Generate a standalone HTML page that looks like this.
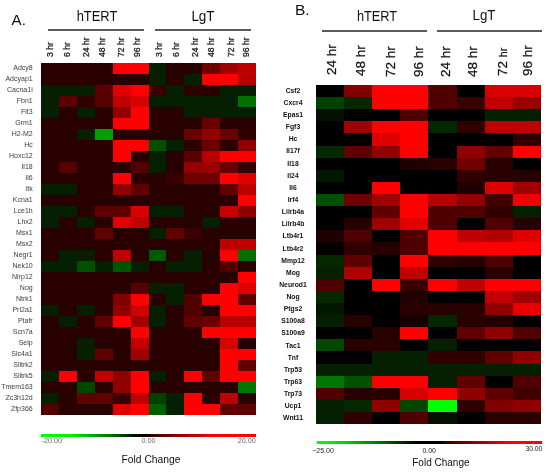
<!DOCTYPE html>
<html><head><meta charset="utf-8"><title>Heatmaps</title>
<style>
html,body{margin:0;padding:0;background:#fff;}
body{width:550px;height:474px;position:relative;overflow:hidden;font-family:"Liberation Sans",sans-serif;color:#000;}
.hm{position:absolute;display:block;}
.t{position:absolute;white-space:nowrap;line-height:1;}
.big{font-size:14.5px;color:#111;}
.ln{position:absolute;height:1.6px;background:#595959;}
.ra{position:absolute;right:0;font-size:7.0px;color:#3c3c3c;text-align:right;white-space:nowrap;line-height:11px;height:11px;}
.rb{position:absolute;font-size:8.0px;transform:scaleX(0.85);font-weight:bold;color:#111;text-align:center;white-space:nowrap;line-height:12.11px;height:12.11px;width:50px;}
.ca{position:absolute;font-size:8.6px;color:#222;-webkit-text-stroke:0.3px #222;white-space:nowrap;line-height:1;transform-origin:0 0;transform:rotate(-90deg);}
.cb{position:absolute;font-size:13.5px;color:#111;-webkit-text-stroke:0.25px #111;white-space:nowrap;line-height:1;transform-origin:0 0;transform:rotate(-90deg);}
.bar{position:absolute;}
.barA{background:linear-gradient(to right,#00ff00 0%,#00f000 14%,#00c800 20%,#009000 27.5%,#006000 34.5%,#003000 40%,#000 45%,#000 50%,#400000 53%,#700000 59.5%,#a00000 66.5%,#d00000 74%,#ff0000 80%,#ff0000 100%);}
.barB{background:linear-gradient(to right,#00ff00 0%,#00f000 6%,#00d000 12.5%,#00a000 20.5%,#007800 27.5%,#004800 33.5%,#002000 39.5%,#000 44%,#000 53.8%,#300000 58.2%,#700000 65.7%,#a00000 72.3%,#d00000 79.4%,#ff0000 85.6%,#ff0000 100%);}
.sa{position:absolute;font-size:7.2px;color:#666;white-space:nowrap;line-height:1;}
.sb{position:absolute;font-size:7px;color:#222;white-space:nowrap;line-height:1;}
.fc{position:absolute;font-size:10.3px;color:#111;white-space:nowrap;line-height:1;text-align:center;width:100px;}
</style></head><body>

<div class="t big" style="left:11.6px;top:11.5px;font-size:15.2px">A.</div>
<div class="t big" style="left:57.3px;top:8.8px;width:80px;text-align:center;transform:scaleX(0.89)">hTERT</div>
<div class="t big" style="left:162.5px;top:8.8px;width:80px;text-align:center;transform:scaleX(0.93)">LgT</div>
<div class="ln" style="left:47.6px;top:29.2px;width:96px"></div>
<div class="ln" style="left:155px;top:29.2px;width:96px"></div>
<div class="ca" style="left:46.3px;top:57.3px">3 hr</div>
<div class="ca" style="left:63.3px;top:57.3px">6 hr</div>
<div class="ca" style="left:81.7px;top:57.3px">24 hr</div>
<div class="ca" style="left:98.3px;top:57.3px">48 hr</div>
<div class="ca" style="left:116.8px;top:57.3px">72 hr</div>
<div class="ca" style="left:132.8px;top:57.3px">96 hr</div>
<div class="ca" style="left:155.2px;top:57.3px">3 hr</div>
<div class="ca" style="left:172.3px;top:57.3px">6 hr</div>
<div class="ca" style="left:190.8px;top:57.3px">24 hr</div>
<div class="ca" style="left:207.3px;top:57.3px">48 hr</div>
<div class="ca" style="left:226.5px;top:57.3px">72 hr</div>
<div class="ca" style="left:242.0px;top:57.3px">96 hr</div>
<div style="position:absolute;left:0;top:62.150000000000006px;width:32.7px;height:360px">
<div class="ra" style="top:0.00px">Adcy8</div>
<div class="ra" style="top:11.00px">Adcyap1</div>
<div class="ra" style="top:22.00px">Cacna1i</div>
<div class="ra" style="top:33.00px">Fbn1</div>
<div class="ra" style="top:44.00px">Flt3</div>
<div class="ra" style="top:55.00px">Grm1</div>
<div class="ra" style="top:66.00px">H2-M2</div>
<div class="ra" style="top:77.00px">Hc</div>
<div class="ra" style="top:88.00px">Hoxc12</div>
<div class="ra" style="top:99.00px">Il18</div>
<div class="ra" style="top:110.00px">Il6</div>
<div class="ra" style="top:121.00px">Itk</div>
<div class="ra" style="top:132.00px">Kcna1</div>
<div class="ra" style="top:143.00px">Lce1h</div>
<div class="ra" style="top:154.00px">Lhx2</div>
<div class="ra" style="top:165.00px">Msx1</div>
<div class="ra" style="top:176.00px">Msx2</div>
<div class="ra" style="top:187.00px">Negr1</div>
<div class="ra" style="top:198.00px">Nek10</div>
<div class="ra" style="top:209.00px">Nlrp12</div>
<div class="ra" style="top:220.00px">Nog</div>
<div class="ra" style="top:231.00px">Ntrk1</div>
<div class="ra" style="top:242.00px">Prl2a1</div>
<div class="ra" style="top:253.00px">Ptafr</div>
<div class="ra" style="top:264.00px">Scn7a</div>
<div class="ra" style="top:275.00px">Selp</div>
<div class="ra" style="top:286.00px">Slc4a1</div>
<div class="ra" style="top:297.00px">Slitrk2</div>
<div class="ra" style="top:308.00px">Slitrk5</div>
<div class="ra" style="top:319.00px">Tmem163</div>
<div class="ra" style="top:330.00px">Zc3h12d</div>
<div class="ra" style="top:341.00px">Zfp366</div>
</div>
<svg class="hm" style="left:41.1px;top:62.7px" width="215.04" height="352.00" viewBox="0 0 215.04 352.00" shape-rendering="crispEdges">
<rect x="0.00" y="0.00" width="71.98" height="11.30" fill="#280000"/>
<rect x="71.68" y="0.00" width="36.14" height="11.30" fill="#ff0000"/>
<rect x="107.52" y="0.00" width="18.22" height="11.30" fill="#042000"/>
<rect x="125.44" y="0.00" width="36.14" height="11.30" fill="#280000"/>
<rect x="161.28" y="0.00" width="18.22" height="11.30" fill="#700000"/>
<rect x="179.20" y="0.00" width="18.22" height="11.30" fill="#a00000"/>
<rect x="197.12" y="0.00" width="18.22" height="11.30" fill="#c00000"/>
<rect x="0.00" y="11.00" width="107.82" height="11.30" fill="#280000"/>
<rect x="107.52" y="11.00" width="18.22" height="11.30" fill="#042000"/>
<rect x="125.44" y="11.00" width="18.22" height="11.30" fill="#280000"/>
<rect x="143.36" y="11.00" width="18.22" height="11.30" fill="#042000"/>
<rect x="161.28" y="11.00" width="36.14" height="11.30" fill="#ff0000"/>
<rect x="197.12" y="11.00" width="18.22" height="11.30" fill="#b80000"/>
<rect x="0.00" y="22.00" width="54.06" height="11.30" fill="#042000"/>
<rect x="53.76" y="22.00" width="18.22" height="11.30" fill="#580000"/>
<rect x="71.68" y="22.00" width="18.22" height="11.30" fill="#e00000"/>
<rect x="89.60" y="22.00" width="18.22" height="11.30" fill="#ff0000"/>
<rect x="107.52" y="22.00" width="18.22" height="11.30" fill="#380000"/>
<rect x="125.44" y="22.00" width="18.22" height="11.30" fill="#042000"/>
<rect x="143.36" y="22.00" width="18.22" height="11.30" fill="#300000"/>
<rect x="161.28" y="22.00" width="18.22" height="11.30" fill="#280000"/>
<rect x="179.20" y="22.00" width="36.14" height="11.30" fill="#042000"/>
<rect x="0.00" y="33.00" width="18.22" height="11.30" fill="#042000"/>
<rect x="17.92" y="33.00" width="18.22" height="11.30" fill="#5a0000"/>
<rect x="35.84" y="33.00" width="18.22" height="11.30" fill="#300000"/>
<rect x="53.76" y="33.00" width="18.22" height="11.30" fill="#580000"/>
<rect x="71.68" y="33.00" width="18.22" height="11.30" fill="#c00000"/>
<rect x="89.60" y="33.00" width="18.22" height="11.30" fill="#d80000"/>
<rect x="107.52" y="33.00" width="89.90" height="11.30" fill="#042000"/>
<rect x="197.12" y="33.00" width="18.22" height="11.30" fill="#007000"/>
<rect x="0.00" y="44.00" width="18.22" height="11.30" fill="#042000"/>
<rect x="17.92" y="44.00" width="18.22" height="11.30" fill="#280000"/>
<rect x="35.84" y="44.00" width="18.22" height="11.30" fill="#042000"/>
<rect x="53.76" y="44.00" width="18.22" height="11.30" fill="#280000"/>
<rect x="71.68" y="44.00" width="18.22" height="11.30" fill="#900000"/>
<rect x="89.60" y="44.00" width="18.22" height="11.30" fill="#ff0000"/>
<rect x="107.52" y="44.00" width="36.14" height="11.30" fill="#280000"/>
<rect x="143.36" y="44.00" width="71.98" height="11.30" fill="#042000"/>
<rect x="0.00" y="55.00" width="71.98" height="11.30" fill="#280000"/>
<rect x="71.68" y="55.00" width="36.14" height="11.30" fill="#ff0000"/>
<rect x="107.52" y="55.00" width="54.06" height="11.30" fill="#280000"/>
<rect x="161.28" y="55.00" width="18.22" height="11.30" fill="#680000"/>
<rect x="179.20" y="55.00" width="36.14" height="11.30" fill="#280000"/>
<rect x="0.00" y="66.00" width="36.14" height="11.30" fill="#280000"/>
<rect x="35.84" y="66.00" width="18.22" height="11.30" fill="#042000"/>
<rect x="53.76" y="66.00" width="18.22" height="11.30" fill="#00a000"/>
<rect x="71.68" y="66.00" width="71.98" height="11.30" fill="#280000"/>
<rect x="143.36" y="66.00" width="18.22" height="11.30" fill="#680000"/>
<rect x="161.28" y="66.00" width="18.22" height="11.30" fill="#900000"/>
<rect x="179.20" y="66.00" width="18.22" height="11.30" fill="#680000"/>
<rect x="197.12" y="66.00" width="18.22" height="11.30" fill="#300000"/>
<rect x="0.00" y="77.00" width="71.98" height="11.30" fill="#280000"/>
<rect x="71.68" y="77.00" width="36.14" height="11.30" fill="#ff0000"/>
<rect x="107.52" y="77.00" width="18.22" height="11.30" fill="#005000"/>
<rect x="125.44" y="77.00" width="18.22" height="11.30" fill="#042000"/>
<rect x="143.36" y="77.00" width="18.22" height="11.30" fill="#300000"/>
<rect x="161.28" y="77.00" width="18.22" height="11.30" fill="#680000"/>
<rect x="179.20" y="77.00" width="18.22" height="11.30" fill="#280000"/>
<rect x="197.12" y="77.00" width="18.22" height="11.30" fill="#900000"/>
<rect x="0.00" y="88.00" width="71.98" height="11.30" fill="#280000"/>
<rect x="71.68" y="88.00" width="18.22" height="11.30" fill="#ff0000"/>
<rect x="89.60" y="88.00" width="18.22" height="11.30" fill="#280000"/>
<rect x="107.52" y="88.00" width="18.22" height="11.30" fill="#042000"/>
<rect x="125.44" y="88.00" width="18.22" height="11.30" fill="#280000"/>
<rect x="143.36" y="88.00" width="18.22" height="11.30" fill="#580000"/>
<rect x="161.28" y="88.00" width="18.22" height="11.30" fill="#b80000"/>
<rect x="179.20" y="88.00" width="36.14" height="11.30" fill="#ff0000"/>
<rect x="0.00" y="99.00" width="18.22" height="11.30" fill="#280000"/>
<rect x="17.92" y="99.00" width="18.22" height="11.30" fill="#580000"/>
<rect x="35.84" y="99.00" width="54.06" height="11.30" fill="#280000"/>
<rect x="89.60" y="99.00" width="18.22" height="11.30" fill="#500000"/>
<rect x="107.52" y="99.00" width="18.22" height="11.30" fill="#042000"/>
<rect x="125.44" y="99.00" width="18.22" height="11.30" fill="#280000"/>
<rect x="143.36" y="99.00" width="36.14" height="11.30" fill="#980000"/>
<rect x="179.20" y="99.00" width="18.22" height="11.30" fill="#680000"/>
<rect x="197.12" y="99.00" width="18.22" height="11.30" fill="#300000"/>
<rect x="0.00" y="110.00" width="71.98" height="11.30" fill="#280000"/>
<rect x="71.68" y="110.00" width="18.22" height="11.30" fill="#ff0000"/>
<rect x="89.60" y="110.00" width="36.14" height="11.30" fill="#280000"/>
<rect x="125.44" y="110.00" width="18.22" height="11.30" fill="#380000"/>
<rect x="143.36" y="110.00" width="36.14" height="11.30" fill="#700000"/>
<rect x="179.20" y="110.00" width="18.22" height="11.30" fill="#ff0000"/>
<rect x="197.12" y="110.00" width="18.22" height="11.30" fill="#e00000"/>
<rect x="0.00" y="121.00" width="36.14" height="11.30" fill="#042000"/>
<rect x="35.84" y="121.00" width="36.14" height="11.30" fill="#280000"/>
<rect x="71.68" y="121.00" width="18.22" height="11.30" fill="#900000"/>
<rect x="89.60" y="121.00" width="18.22" height="11.30" fill="#600000"/>
<rect x="107.52" y="121.00" width="71.98" height="11.30" fill="#280000"/>
<rect x="179.20" y="121.00" width="18.22" height="11.30" fill="#600000"/>
<rect x="197.12" y="121.00" width="18.22" height="11.30" fill="#c00000"/>
<rect x="0.00" y="132.00" width="197.42" height="11.30" fill="#280000"/>
<rect x="197.12" y="132.00" width="18.22" height="11.30" fill="#ff0000"/>
<rect x="0.00" y="143.00" width="36.14" height="11.30" fill="#042000"/>
<rect x="35.84" y="143.00" width="18.22" height="11.30" fill="#280000"/>
<rect x="53.76" y="143.00" width="36.14" height="11.30" fill="#600000"/>
<rect x="89.60" y="143.00" width="18.22" height="11.30" fill="#d80000"/>
<rect x="107.52" y="143.00" width="36.14" height="11.30" fill="#042000"/>
<rect x="143.36" y="143.00" width="36.14" height="11.30" fill="#280000"/>
<rect x="179.20" y="143.00" width="18.22" height="11.30" fill="#c80000"/>
<rect x="197.12" y="143.00" width="18.22" height="11.30" fill="#900000"/>
<rect x="0.00" y="154.00" width="18.22" height="11.30" fill="#042000"/>
<rect x="17.92" y="154.00" width="18.22" height="11.30" fill="#280000"/>
<rect x="35.84" y="154.00" width="18.22" height="11.30" fill="#042000"/>
<rect x="53.76" y="154.00" width="18.22" height="11.30" fill="#280000"/>
<rect x="71.68" y="154.00" width="18.22" height="11.30" fill="#e00000"/>
<rect x="89.60" y="154.00" width="18.22" height="11.30" fill="#c00000"/>
<rect x="107.52" y="154.00" width="54.06" height="11.30" fill="#280000"/>
<rect x="161.28" y="154.00" width="18.22" height="11.30" fill="#042000"/>
<rect x="179.20" y="154.00" width="36.14" height="11.30" fill="#280000"/>
<rect x="0.00" y="165.00" width="54.06" height="11.30" fill="#280000"/>
<rect x="53.76" y="165.00" width="18.22" height="11.30" fill="#600000"/>
<rect x="71.68" y="165.00" width="36.14" height="11.30" fill="#280000"/>
<rect x="107.52" y="165.00" width="18.22" height="11.30" fill="#042000"/>
<rect x="125.44" y="165.00" width="18.22" height="11.30" fill="#600000"/>
<rect x="143.36" y="165.00" width="18.22" height="11.30" fill="#380000"/>
<rect x="161.28" y="165.00" width="54.06" height="11.30" fill="#280000"/>
<rect x="0.00" y="176.00" width="179.50" height="11.30" fill="#280000"/>
<rect x="179.20" y="176.00" width="36.14" height="11.30" fill="#c00000"/>
<rect x="0.00" y="187.00" width="18.22" height="11.30" fill="#280000"/>
<rect x="17.92" y="187.00" width="36.14" height="11.30" fill="#042000"/>
<rect x="53.76" y="187.00" width="18.22" height="11.30" fill="#280000"/>
<rect x="71.68" y="187.00" width="18.22" height="11.30" fill="#c00000"/>
<rect x="89.60" y="187.00" width="18.22" height="11.30" fill="#280000"/>
<rect x="107.52" y="187.00" width="18.22" height="11.30" fill="#005800"/>
<rect x="125.44" y="187.00" width="18.22" height="11.30" fill="#280000"/>
<rect x="143.36" y="187.00" width="18.22" height="11.30" fill="#042000"/>
<rect x="161.28" y="187.00" width="18.22" height="11.30" fill="#280000"/>
<rect x="179.20" y="187.00" width="18.22" height="11.30" fill="#ff0000"/>
<rect x="197.12" y="187.00" width="18.22" height="11.30" fill="#007000"/>
<rect x="0.00" y="198.00" width="36.14" height="11.30" fill="#042000"/>
<rect x="35.84" y="198.00" width="18.22" height="11.30" fill="#005000"/>
<rect x="53.76" y="198.00" width="18.22" height="11.30" fill="#042000"/>
<rect x="71.68" y="198.00" width="18.22" height="11.30" fill="#005500"/>
<rect x="89.60" y="198.00" width="18.22" height="11.30" fill="#042000"/>
<rect x="107.52" y="198.00" width="18.22" height="11.30" fill="#280000"/>
<rect x="125.44" y="198.00" width="36.14" height="11.30" fill="#042000"/>
<rect x="161.28" y="198.00" width="18.22" height="11.30" fill="#280000"/>
<rect x="179.20" y="198.00" width="18.22" height="11.30" fill="#500000"/>
<rect x="197.12" y="198.00" width="18.22" height="11.30" fill="#280000"/>
<rect x="0.00" y="209.00" width="197.42" height="11.30" fill="#280000"/>
<rect x="197.12" y="209.00" width="18.22" height="11.30" fill="#ff0000"/>
<rect x="0.00" y="220.00" width="89.90" height="11.30" fill="#280000"/>
<rect x="89.60" y="220.00" width="18.22" height="11.30" fill="#580000"/>
<rect x="107.52" y="220.00" width="36.14" height="11.30" fill="#042000"/>
<rect x="143.36" y="220.00" width="36.14" height="11.30" fill="#280000"/>
<rect x="179.20" y="220.00" width="18.22" height="11.30" fill="#ff0000"/>
<rect x="197.12" y="220.00" width="18.22" height="11.30" fill="#e00000"/>
<rect x="0.00" y="231.00" width="71.98" height="11.30" fill="#280000"/>
<rect x="71.68" y="231.00" width="18.22" height="11.30" fill="#800000"/>
<rect x="89.60" y="231.00" width="18.22" height="11.30" fill="#ff0000"/>
<rect x="107.52" y="231.00" width="18.22" height="11.30" fill="#280000"/>
<rect x="125.44" y="231.00" width="18.22" height="11.30" fill="#042000"/>
<rect x="143.36" y="231.00" width="18.22" height="11.30" fill="#500000"/>
<rect x="161.28" y="231.00" width="36.14" height="11.30" fill="#ff0000"/>
<rect x="197.12" y="231.00" width="18.22" height="11.30" fill="#600000"/>
<rect x="0.00" y="242.00" width="18.22" height="11.30" fill="#042000"/>
<rect x="17.92" y="242.00" width="18.22" height="11.30" fill="#280000"/>
<rect x="35.84" y="242.00" width="18.22" height="11.30" fill="#042000"/>
<rect x="53.76" y="242.00" width="18.22" height="11.30" fill="#280000"/>
<rect x="71.68" y="242.00" width="18.22" height="11.30" fill="#900000"/>
<rect x="89.60" y="242.00" width="18.22" height="11.30" fill="#d00000"/>
<rect x="107.52" y="242.00" width="18.22" height="11.30" fill="#042000"/>
<rect x="125.44" y="242.00" width="18.22" height="11.30" fill="#280000"/>
<rect x="143.36" y="242.00" width="18.22" height="11.30" fill="#500000"/>
<rect x="161.28" y="242.00" width="18.22" height="11.30" fill="#280000"/>
<rect x="179.20" y="242.00" width="36.14" height="11.30" fill="#ff0000"/>
<rect x="0.00" y="253.00" width="18.22" height="11.30" fill="#280000"/>
<rect x="17.92" y="253.00" width="18.22" height="11.30" fill="#042000"/>
<rect x="35.84" y="253.00" width="18.22" height="11.30" fill="#280000"/>
<rect x="53.76" y="253.00" width="18.22" height="11.30" fill="#600000"/>
<rect x="71.68" y="253.00" width="18.22" height="11.30" fill="#ff0000"/>
<rect x="89.60" y="253.00" width="18.22" height="11.30" fill="#a00000"/>
<rect x="107.52" y="253.00" width="18.22" height="11.30" fill="#042000"/>
<rect x="125.44" y="253.00" width="18.22" height="11.30" fill="#280000"/>
<rect x="143.36" y="253.00" width="18.22" height="11.30" fill="#600000"/>
<rect x="161.28" y="253.00" width="18.22" height="11.30" fill="#680000"/>
<rect x="179.20" y="253.00" width="36.14" height="11.30" fill="#b80000"/>
<rect x="0.00" y="264.00" width="89.90" height="11.30" fill="#280000"/>
<rect x="89.60" y="264.00" width="18.22" height="11.30" fill="#ff0000"/>
<rect x="107.52" y="264.00" width="54.06" height="11.30" fill="#280000"/>
<rect x="161.28" y="264.00" width="54.06" height="11.30" fill="#ff0000"/>
<rect x="0.00" y="275.00" width="36.14" height="11.30" fill="#280000"/>
<rect x="35.84" y="275.00" width="18.22" height="11.30" fill="#042000"/>
<rect x="53.76" y="275.00" width="36.14" height="11.30" fill="#280000"/>
<rect x="89.60" y="275.00" width="18.22" height="11.30" fill="#c00000"/>
<rect x="107.52" y="275.00" width="71.98" height="11.30" fill="#280000"/>
<rect x="179.20" y="275.00" width="18.22" height="11.30" fill="#d80000"/>
<rect x="197.12" y="275.00" width="18.22" height="11.30" fill="#280000"/>
<rect x="0.00" y="286.00" width="36.14" height="11.30" fill="#280000"/>
<rect x="35.84" y="286.00" width="18.22" height="11.30" fill="#042000"/>
<rect x="53.76" y="286.00" width="18.22" height="11.30" fill="#600000"/>
<rect x="71.68" y="286.00" width="18.22" height="11.30" fill="#280000"/>
<rect x="89.60" y="286.00" width="18.22" height="11.30" fill="#a00000"/>
<rect x="107.52" y="286.00" width="71.98" height="11.30" fill="#280000"/>
<rect x="179.20" y="286.00" width="36.14" height="11.30" fill="#ff0000"/>
<rect x="0.00" y="297.00" width="179.50" height="11.30" fill="#280000"/>
<rect x="179.20" y="297.00" width="18.22" height="11.30" fill="#ff0000"/>
<rect x="197.12" y="297.00" width="18.22" height="11.30" fill="#600000"/>
<rect x="0.00" y="308.00" width="18.22" height="11.30" fill="#042000"/>
<rect x="17.92" y="308.00" width="18.22" height="11.30" fill="#ff0000"/>
<rect x="35.84" y="308.00" width="18.22" height="11.30" fill="#280000"/>
<rect x="53.76" y="308.00" width="18.22" height="11.30" fill="#c00000"/>
<rect x="71.68" y="308.00" width="18.22" height="11.30" fill="#900000"/>
<rect x="89.60" y="308.00" width="18.22" height="11.30" fill="#ff0000"/>
<rect x="107.52" y="308.00" width="18.22" height="11.30" fill="#042000"/>
<rect x="125.44" y="308.00" width="18.22" height="11.30" fill="#280000"/>
<rect x="143.36" y="308.00" width="18.22" height="11.30" fill="#ff0000"/>
<rect x="161.28" y="308.00" width="18.22" height="11.30" fill="#600000"/>
<rect x="179.20" y="308.00" width="36.14" height="11.30" fill="#ff0000"/>
<rect x="0.00" y="319.00" width="36.14" height="11.30" fill="#280000"/>
<rect x="35.84" y="319.00" width="18.22" height="11.30" fill="#004800"/>
<rect x="53.76" y="319.00" width="18.22" height="11.30" fill="#280000"/>
<rect x="71.68" y="319.00" width="18.22" height="11.30" fill="#900000"/>
<rect x="89.60" y="319.00" width="18.22" height="11.30" fill="#ff0000"/>
<rect x="107.52" y="319.00" width="89.90" height="11.30" fill="#280000"/>
<rect x="197.12" y="319.00" width="18.22" height="11.30" fill="#007800"/>
<rect x="0.00" y="330.00" width="18.22" height="11.30" fill="#042000"/>
<rect x="17.92" y="330.00" width="18.22" height="11.30" fill="#280000"/>
<rect x="35.84" y="330.00" width="36.14" height="11.30" fill="#600000"/>
<rect x="71.68" y="330.00" width="18.22" height="11.30" fill="#380000"/>
<rect x="89.60" y="330.00" width="18.22" height="11.30" fill="#c00000"/>
<rect x="107.52" y="330.00" width="18.22" height="11.30" fill="#004000"/>
<rect x="125.44" y="330.00" width="18.22" height="11.30" fill="#042000"/>
<rect x="143.36" y="330.00" width="18.22" height="11.30" fill="#ff0000"/>
<rect x="161.28" y="330.00" width="18.22" height="11.30" fill="#280000"/>
<rect x="179.20" y="330.00" width="18.22" height="11.30" fill="#c00000"/>
<rect x="197.12" y="330.00" width="18.22" height="11.30" fill="#280000"/>
<rect x="0.00" y="341.00" width="18.22" height="11.30" fill="#500000"/>
<rect x="17.92" y="341.00" width="54.06" height="11.30" fill="#280000"/>
<rect x="71.68" y="341.00" width="18.22" height="11.30" fill="#e00000"/>
<rect x="89.60" y="341.00" width="18.22" height="11.30" fill="#ff0000"/>
<rect x="107.52" y="341.00" width="18.22" height="11.30" fill="#006000"/>
<rect x="125.44" y="341.00" width="18.22" height="11.30" fill="#042000"/>
<rect x="143.36" y="341.00" width="36.14" height="11.30" fill="#ff0000"/>
<rect x="179.20" y="341.00" width="36.14" height="11.30" fill="#600000"/>
</svg>
<div class="bar barA" style="left:41px;top:434.2px;width:215px;height:2.9px"></div>
<div class="sa" style="left:41.7px;top:437.4px">-20.00</div>
<div class="sa" style="left:128.5px;top:437.4px;width:40px;text-align:center">0.00</div>
<div class="sa" style="left:215.8px;top:437.4px;width:40px;text-align:right">20.00</div>
<div class="fc" style="left:101px;top:454.8px">Fold Change</div>
<div class="t big" style="left:295.2px;top:2.6px;font-size:14.4px;transform-origin:0 0;transform:scaleX(1.08)">B.</div>
<div class="t big" style="left:337.2px;top:8.8px;width:80px;text-align:center;font-size:14.5px;transform:scaleX(0.88)">hTERT</div>
<div class="t big" style="left:443.5px;top:8.3px;width:80px;text-align:center;font-size:14.8px;transform:scaleX(0.9)">LgT</div>
<div class="ln" style="left:322.2px;top:30.1px;width:105.3px"></div>
<div class="ln" style="left:436.7px;top:30.1px;width:105.3px"></div>
<div class="cb" style="left:324.8px;top:75.4px">24 hr</div>
<div class="cb" style="left:353.9px;top:76.2px">48 hr</div>
<div class="cb" style="left:383.5px;top:76.6px">72 hr</div>
<div class="cb" style="left:412.3px;top:76.6px">96 hr</div>
<div class="cb" style="left:438.8px;top:76.8px">24 hr</div>
<div class="cb" style="left:465.7px;top:76.8px">48 hr</div>
<div class="cb" style="left:495.5px;top:75.6px">72 <span style="font-size:10.6px;letter-spacing:0.2px">hr</span></div>
<div class="cb" style="left:521.4px;top:75.6px">96 hr</div>
<div class="rb" style="left:267.5px;top:84.80px">Csf2</div>
<div class="rb" style="left:267.5px;top:96.94px">Cxcr4</div>
<div class="rb" style="left:267.5px;top:109.07px">Epas1</div>
<div class="rb" style="left:267.5px;top:121.20px">Fgf3</div>
<div class="rb" style="left:267.5px;top:133.34px">Hc</div>
<div class="rb" style="left:267.5px;top:145.47px">Il17f</div>
<div class="rb" style="left:267.5px;top:157.61px">Il18</div>
<div class="rb" style="left:267.5px;top:169.75px">Il24</div>
<div class="rb" style="left:267.5px;top:181.88px">Il6</div>
<div class="rb" style="left:267.5px;top:194.01px">Irf4</div>
<div class="rb" style="left:267.5px;top:206.15px">Lilrb4a</div>
<div class="rb" style="left:267.5px;top:218.28px">Lilrb4b</div>
<div class="rb" style="left:267.5px;top:230.42px">Ltb4r1</div>
<div class="rb" style="left:267.5px;top:242.56px">Ltb4r2</div>
<div class="rb" style="left:267.5px;top:254.69px">Mmp12</div>
<div class="rb" style="left:267.5px;top:266.82px">Mog</div>
<div class="rb" style="left:267.5px;top:278.96px">Neurod1</div>
<div class="rb" style="left:267.5px;top:291.09px">Nog</div>
<div class="rb" style="left:267.5px;top:303.23px">Ptgs2</div>
<div class="rb" style="left:267.5px;top:315.37px">S100a8</div>
<div class="rb" style="left:267.5px;top:326.50px">S100a9</div>
<div class="rb" style="left:267.5px;top:339.63px">Tac1</div>
<div class="rb" style="left:267.5px;top:351.77px">Tnf</div>
<div class="rb" style="left:267.5px;top:363.91px">Trp53</div>
<div class="rb" style="left:267.5px;top:376.04px">Trp63</div>
<div class="rb" style="left:267.5px;top:388.18px">Trp73</div>
<div class="rb" style="left:267.5px;top:400.31px">Ucp1</div>
<div class="rb" style="left:267.5px;top:412.44px">Wnt11</div>
<svg class="hm" style="left:315.9px;top:84.55px" width="224.96" height="339.08" viewBox="0 0 224.96 339.08" shape-rendering="crispEdges">
<rect x="0.00" y="0.00" width="28.42" height="12.41" fill="#000000"/>
<rect x="28.12" y="0.00" width="28.42" height="12.41" fill="#800000"/>
<rect x="56.24" y="0.00" width="56.54" height="12.41" fill="#ff0000"/>
<rect x="112.48" y="0.00" width="28.42" height="12.41" fill="#500000"/>
<rect x="140.60" y="0.00" width="28.42" height="12.41" fill="#000000"/>
<rect x="168.72" y="0.00" width="56.54" height="12.41" fill="#d80000"/>
<rect x="0.00" y="12.11" width="28.42" height="12.41" fill="#004000"/>
<rect x="28.12" y="12.11" width="28.42" height="12.41" fill="#042800"/>
<rect x="56.24" y="12.11" width="56.54" height="12.41" fill="#ff0000"/>
<rect x="112.48" y="12.11" width="28.42" height="12.41" fill="#500000"/>
<rect x="140.60" y="12.11" width="28.42" height="12.41" fill="#380000"/>
<rect x="168.72" y="12.11" width="28.42" height="12.41" fill="#c00000"/>
<rect x="196.84" y="12.11" width="28.42" height="12.41" fill="#980000"/>
<rect x="0.00" y="24.22" width="28.42" height="12.41" fill="#041000"/>
<rect x="28.12" y="24.22" width="56.54" height="12.41" fill="#000000"/>
<rect x="84.36" y="24.22" width="28.42" height="12.41" fill="#500000"/>
<rect x="112.48" y="24.22" width="56.54" height="12.41" fill="#000000"/>
<rect x="168.72" y="24.22" width="56.54" height="12.41" fill="#042000"/>
<rect x="0.00" y="36.33" width="28.42" height="12.41" fill="#000000"/>
<rect x="28.12" y="36.33" width="28.42" height="12.41" fill="#a00000"/>
<rect x="56.24" y="36.33" width="56.54" height="12.41" fill="#ff0000"/>
<rect x="112.48" y="36.33" width="28.42" height="12.41" fill="#042800"/>
<rect x="140.60" y="36.33" width="28.42" height="12.41" fill="#300000"/>
<rect x="168.72" y="36.33" width="56.54" height="12.41" fill="#c00000"/>
<rect x="0.00" y="48.44" width="56.54" height="12.41" fill="#000000"/>
<rect x="56.24" y="48.44" width="28.42" height="12.41" fill="#e00000"/>
<rect x="84.36" y="48.44" width="28.42" height="12.41" fill="#ff0000"/>
<rect x="112.48" y="48.44" width="84.66" height="12.41" fill="#000000"/>
<rect x="196.84" y="48.44" width="28.42" height="12.41" fill="#300000"/>
<rect x="0.00" y="60.55" width="28.42" height="12.41" fill="#042800"/>
<rect x="28.12" y="60.55" width="28.42" height="12.41" fill="#600000"/>
<rect x="56.24" y="60.55" width="28.42" height="12.41" fill="#900000"/>
<rect x="84.36" y="60.55" width="28.42" height="12.41" fill="#ff0000"/>
<rect x="112.48" y="60.55" width="28.42" height="12.41" fill="#000000"/>
<rect x="140.60" y="60.55" width="28.42" height="12.41" fill="#900000"/>
<rect x="168.72" y="60.55" width="28.42" height="12.41" fill="#600000"/>
<rect x="196.84" y="60.55" width="28.42" height="12.41" fill="#ff0000"/>
<rect x="0.00" y="72.66" width="84.66" height="12.41" fill="#000000"/>
<rect x="84.36" y="72.66" width="28.42" height="12.41" fill="#200000"/>
<rect x="112.48" y="72.66" width="28.42" height="12.41" fill="#280000"/>
<rect x="140.60" y="72.66" width="28.42" height="12.41" fill="#700000"/>
<rect x="168.72" y="72.66" width="28.42" height="12.41" fill="#280000"/>
<rect x="196.84" y="72.66" width="28.42" height="12.41" fill="#000000"/>
<rect x="0.00" y="84.77" width="28.42" height="12.41" fill="#041800"/>
<rect x="28.12" y="84.77" width="112.78" height="12.41" fill="#000000"/>
<rect x="140.60" y="84.77" width="28.42" height="12.41" fill="#300000"/>
<rect x="168.72" y="84.77" width="56.54" height="12.41" fill="#280000"/>
<rect x="0.00" y="96.88" width="56.54" height="12.41" fill="#000000"/>
<rect x="56.24" y="96.88" width="28.42" height="12.41" fill="#ff0000"/>
<rect x="84.36" y="96.88" width="56.54" height="12.41" fill="#000000"/>
<rect x="140.60" y="96.88" width="28.42" height="12.41" fill="#200000"/>
<rect x="168.72" y="96.88" width="28.42" height="12.41" fill="#e00000"/>
<rect x="196.84" y="96.88" width="28.42" height="12.41" fill="#a00000"/>
<rect x="0.00" y="108.99" width="28.42" height="12.41" fill="#005000"/>
<rect x="28.12" y="108.99" width="28.42" height="12.41" fill="#700000"/>
<rect x="56.24" y="108.99" width="28.42" height="12.41" fill="#a00000"/>
<rect x="84.36" y="108.99" width="28.42" height="12.41" fill="#ff0000"/>
<rect x="112.48" y="108.99" width="28.42" height="12.41" fill="#b80000"/>
<rect x="140.60" y="108.99" width="28.42" height="12.41" fill="#900000"/>
<rect x="168.72" y="108.99" width="28.42" height="12.41" fill="#400000"/>
<rect x="196.84" y="108.99" width="28.42" height="12.41" fill="#f00000"/>
<rect x="0.00" y="121.10" width="56.54" height="12.41" fill="#000000"/>
<rect x="56.24" y="121.10" width="28.42" height="12.41" fill="#600000"/>
<rect x="84.36" y="121.10" width="28.42" height="12.41" fill="#ff0000"/>
<rect x="112.48" y="121.10" width="56.54" height="12.41" fill="#500000"/>
<rect x="168.72" y="121.10" width="28.42" height="12.41" fill="#300000"/>
<rect x="196.84" y="121.10" width="28.42" height="12.41" fill="#042000"/>
<rect x="0.00" y="133.21" width="28.42" height="12.41" fill="#000000"/>
<rect x="28.12" y="133.21" width="28.42" height="12.41" fill="#280000"/>
<rect x="56.24" y="133.21" width="28.42" height="12.41" fill="#a00000"/>
<rect x="84.36" y="133.21" width="28.42" height="12.41" fill="#e00000"/>
<rect x="112.48" y="133.21" width="28.42" height="12.41" fill="#500000"/>
<rect x="140.60" y="133.21" width="28.42" height="12.41" fill="#000000"/>
<rect x="168.72" y="133.21" width="28.42" height="12.41" fill="#500000"/>
<rect x="196.84" y="133.21" width="28.42" height="12.41" fill="#280000"/>
<rect x="0.00" y="145.32" width="28.42" height="12.41" fill="#200000"/>
<rect x="28.12" y="145.32" width="28.42" height="12.41" fill="#500000"/>
<rect x="56.24" y="145.32" width="28.42" height="12.41" fill="#000000"/>
<rect x="84.36" y="145.32" width="28.42" height="12.41" fill="#500000"/>
<rect x="112.48" y="145.32" width="28.42" height="12.41" fill="#ff0000"/>
<rect x="140.60" y="145.32" width="28.42" height="12.41" fill="#c00000"/>
<rect x="168.72" y="145.32" width="28.42" height="12.41" fill="#b00000"/>
<rect x="196.84" y="145.32" width="28.42" height="12.41" fill="#e00000"/>
<rect x="0.00" y="157.43" width="28.42" height="12.41" fill="#080000"/>
<rect x="28.12" y="157.43" width="28.42" height="12.41" fill="#300000"/>
<rect x="56.24" y="157.43" width="28.42" height="12.41" fill="#280000"/>
<rect x="84.36" y="157.43" width="28.42" height="12.41" fill="#500000"/>
<rect x="112.48" y="157.43" width="112.78" height="12.41" fill="#ff0000"/>
<rect x="0.00" y="169.54" width="28.42" height="12.41" fill="#042800"/>
<rect x="28.12" y="169.54" width="28.42" height="12.41" fill="#600000"/>
<rect x="56.24" y="169.54" width="28.42" height="12.41" fill="#000000"/>
<rect x="84.36" y="169.54" width="28.42" height="12.41" fill="#ff0000"/>
<rect x="112.48" y="169.54" width="28.42" height="12.41" fill="#300000"/>
<rect x="140.60" y="169.54" width="28.42" height="12.41" fill="#280000"/>
<rect x="168.72" y="169.54" width="28.42" height="12.41" fill="#500000"/>
<rect x="196.84" y="169.54" width="28.42" height="12.41" fill="#000000"/>
<rect x="0.00" y="181.65" width="28.42" height="12.41" fill="#042000"/>
<rect x="28.12" y="181.65" width="28.42" height="12.41" fill="#b00000"/>
<rect x="56.24" y="181.65" width="28.42" height="12.41" fill="#000000"/>
<rect x="84.36" y="181.65" width="28.42" height="12.41" fill="#c00000"/>
<rect x="112.48" y="181.65" width="56.54" height="12.41" fill="#000000"/>
<rect x="168.72" y="181.65" width="28.42" height="12.41" fill="#280000"/>
<rect x="196.84" y="181.65" width="28.42" height="12.41" fill="#000000"/>
<rect x="0.00" y="193.76" width="28.42" height="12.41" fill="#500000"/>
<rect x="28.12" y="193.76" width="28.42" height="12.41" fill="#000000"/>
<rect x="56.24" y="193.76" width="28.42" height="12.41" fill="#ff0000"/>
<rect x="84.36" y="193.76" width="28.42" height="12.41" fill="#380000"/>
<rect x="112.48" y="193.76" width="28.42" height="12.41" fill="#ff0000"/>
<rect x="140.60" y="193.76" width="28.42" height="12.41" fill="#c00000"/>
<rect x="168.72" y="193.76" width="56.54" height="12.41" fill="#ff0000"/>
<rect x="0.00" y="205.87" width="28.42" height="12.41" fill="#042800"/>
<rect x="28.12" y="205.87" width="56.54" height="12.41" fill="#000000"/>
<rect x="84.36" y="205.87" width="28.42" height="12.41" fill="#200000"/>
<rect x="112.48" y="205.87" width="56.54" height="12.41" fill="#000000"/>
<rect x="168.72" y="205.87" width="28.42" height="12.41" fill="#c00000"/>
<rect x="196.84" y="205.87" width="28.42" height="12.41" fill="#a00000"/>
<rect x="0.00" y="217.98" width="28.42" height="12.41" fill="#041800"/>
<rect x="28.12" y="217.98" width="56.54" height="12.41" fill="#000000"/>
<rect x="84.36" y="217.98" width="84.66" height="12.41" fill="#280000"/>
<rect x="168.72" y="217.98" width="28.42" height="12.41" fill="#900000"/>
<rect x="196.84" y="217.98" width="28.42" height="12.41" fill="#e80000"/>
<rect x="0.00" y="230.09" width="28.42" height="12.41" fill="#042000"/>
<rect x="28.12" y="230.09" width="28.42" height="12.41" fill="#280000"/>
<rect x="56.24" y="230.09" width="28.42" height="12.41" fill="#000000"/>
<rect x="84.36" y="230.09" width="28.42" height="12.41" fill="#180000"/>
<rect x="112.48" y="230.09" width="28.42" height="12.41" fill="#042800"/>
<rect x="140.60" y="230.09" width="28.42" height="12.41" fill="#280000"/>
<rect x="168.72" y="230.09" width="28.42" height="12.41" fill="#200000"/>
<rect x="196.84" y="230.09" width="28.42" height="12.41" fill="#000000"/>
<rect x="0.00" y="242.20" width="56.54" height="12.41" fill="#000000"/>
<rect x="56.24" y="242.20" width="28.42" height="12.41" fill="#280000"/>
<rect x="84.36" y="242.20" width="28.42" height="12.41" fill="#ff0000"/>
<rect x="112.48" y="242.20" width="28.42" height="12.41" fill="#000000"/>
<rect x="140.60" y="242.20" width="28.42" height="12.41" fill="#600000"/>
<rect x="168.72" y="242.20" width="28.42" height="12.41" fill="#900000"/>
<rect x="196.84" y="242.20" width="28.42" height="12.41" fill="#500000"/>
<rect x="0.00" y="254.31" width="28.42" height="12.41" fill="#004800"/>
<rect x="28.12" y="254.31" width="56.54" height="12.41" fill="#280000"/>
<rect x="84.36" y="254.31" width="28.42" height="12.41" fill="#000000"/>
<rect x="112.48" y="254.31" width="28.42" height="12.41" fill="#042000"/>
<rect x="140.60" y="254.31" width="84.66" height="12.41" fill="#000000"/>
<rect x="0.00" y="266.42" width="56.54" height="12.41" fill="#000000"/>
<rect x="56.24" y="266.42" width="56.54" height="12.41" fill="#042000"/>
<rect x="112.48" y="266.42" width="56.54" height="12.41" fill="#300000"/>
<rect x="168.72" y="266.42" width="28.42" height="12.41" fill="#600000"/>
<rect x="196.84" y="266.42" width="28.42" height="12.41" fill="#900000"/>
<rect x="0.00" y="278.53" width="225.26" height="12.41" fill="#042000"/>
<rect x="0.00" y="290.64" width="28.42" height="12.41" fill="#007800"/>
<rect x="28.12" y="290.64" width="28.42" height="12.41" fill="#005000"/>
<rect x="56.24" y="290.64" width="56.54" height="12.41" fill="#ff0000"/>
<rect x="112.48" y="290.64" width="28.42" height="12.41" fill="#042000"/>
<rect x="140.60" y="290.64" width="28.42" height="12.41" fill="#600000"/>
<rect x="168.72" y="290.64" width="28.42" height="12.41" fill="#000000"/>
<rect x="196.84" y="290.64" width="28.42" height="12.41" fill="#500000"/>
<rect x="0.00" y="302.75" width="28.42" height="12.41" fill="#500000"/>
<rect x="28.12" y="302.75" width="56.54" height="12.41" fill="#280000"/>
<rect x="84.36" y="302.75" width="28.42" height="12.41" fill="#d80000"/>
<rect x="112.48" y="302.75" width="28.42" height="12.41" fill="#ff0000"/>
<rect x="140.60" y="302.75" width="28.42" height="12.41" fill="#900000"/>
<rect x="168.72" y="302.75" width="28.42" height="12.41" fill="#600000"/>
<rect x="196.84" y="302.75" width="28.42" height="12.41" fill="#400000"/>
<rect x="0.00" y="314.86" width="28.42" height="12.41" fill="#042000"/>
<rect x="28.12" y="314.86" width="28.42" height="12.41" fill="#042800"/>
<rect x="56.24" y="314.86" width="28.42" height="12.41" fill="#900000"/>
<rect x="84.36" y="314.86" width="28.42" height="12.41" fill="#004800"/>
<rect x="112.48" y="314.86" width="28.42" height="12.41" fill="#00ff00"/>
<rect x="140.60" y="314.86" width="28.42" height="12.41" fill="#300000"/>
<rect x="168.72" y="314.86" width="28.42" height="12.41" fill="#800000"/>
<rect x="196.84" y="314.86" width="28.42" height="12.41" fill="#900000"/>
<rect x="0.00" y="326.97" width="28.42" height="12.41" fill="#042000"/>
<rect x="28.12" y="326.97" width="28.42" height="12.41" fill="#300000"/>
<rect x="56.24" y="326.97" width="28.42" height="12.41" fill="#000000"/>
<rect x="84.36" y="326.97" width="28.42" height="12.41" fill="#500000"/>
<rect x="112.48" y="326.97" width="28.42" height="12.41" fill="#041000"/>
<rect x="140.60" y="326.97" width="28.42" height="12.41" fill="#000000"/>
<rect x="168.72" y="326.97" width="56.54" height="12.41" fill="#280000"/>
</svg>
<div class="bar barB" style="left:316.6px;top:441.3px;width:225.5px;height:3.2px"></div>
<div class="sb" style="left:312.2px;top:447.1px">−25.00</div>
<div class="sb" style="left:409.2px;top:447.1px;width:40px;text-align:center">0.00</div>
<div class="sb" style="left:502.4px;top:445.6px;width:40px;text-align:right;font-size:6.8px">30.00</div>
<div class="fc" style="left:390.9px;top:458.4px;font-size:10px">Fold Change</div>
</body></html>
